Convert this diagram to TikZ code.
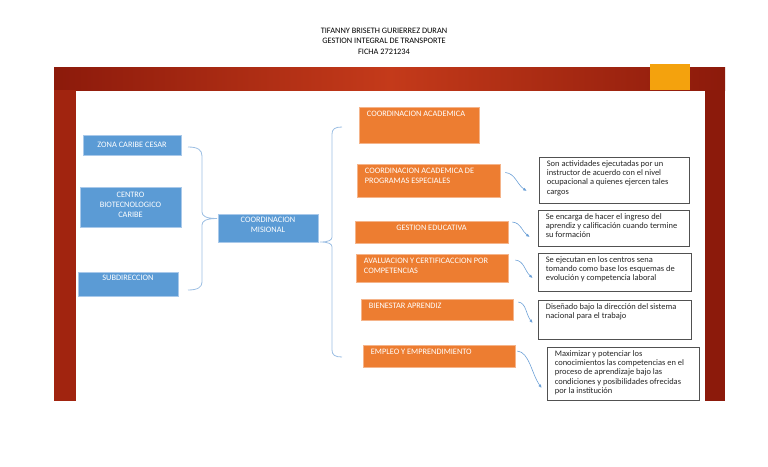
\documentclass[tikz,border=0pt]{standalone}
\usepackage{fontspec}
\setmainfont{Carlito}
\usetikzlibrary{arrows.meta}

\definecolor{boxblue}{HTML}{5B9BD5}
\definecolor{blueedge}{HTML}{A9C9EA}
\definecolor{boxorange}{HTML}{ED7D31}
\definecolor{orgedge}{HTML}{F5B48A}
\definecolor{bracecol}{HTML}{9DBFE3}
\definecolor{arrowcol}{HTML}{6A9FD6}
\definecolor{framedark}{HTML}{8C1A0B}
\definecolor{framemid}{HTML}{C43A1A}
\definecolor{frameside}{HTML}{A1240F}
\definecolor{tabgold}{HTML}{F4A20D}
\definecolor{txtgray}{HTML}{262626}

\newcommand\boxfont{\fontsize{7.1}{8.6}\selectfont}
\newcommand\descfont{\fontsize{7.2}{7.9}\selectfont}

\begin{document}
\begin{tikzpicture}[x=0.03cm,y=-0.03cm,
  sz/.style 2 args={minimum width=#1*0.03cm,minimum height=#2*0.03cm},
  bluebox/.style={draw=blueedge,line width=0.5pt,fill=boxblue,inner sep=0pt,
                  text=white,align=center,font=\boxfont},
  orgbox/.style={draw=orgedge,line width=0.5pt,fill=boxorange,inner sep=0pt},
  orgtxt/.style={label={[anchor=north west,inner xsep=6.8pt,inner ysep=3.3pt,
                 align=left,text=white,font=\boxfont]north west:{#1}}},
  orgmid/.style={label={[anchor=north,inner ysep=3.3pt,
                 text=white,font=\boxfont]north:{#1}}},
  descbox/.style={draw=txtgray!80,line width=0.6pt,fill=white,inner sep=0pt},
  desctxt/.style={label={[anchor=north west,inner xsep=6.8pt,inner ysep=3pt,
                  align=left,text=txtgray,font=\descfont]north west:{#1}}},
  brace/.style={draw=bracecol,line width=0.7pt},
  curarr/.style={arrowcol,line width=0.5pt,-{Latex[length=3pt,width=2.6pt]}}]

  \useasboundingbox (0,0) rectangle (768,466);

  % title
  \node[align=center,text=black,font=\fontsize{7.1}{8.9}\selectfont] (title) at (384,41)
    {TIFANNY BRISETH GURIERREZ DURAN\\GESTION INTEGRAL DE TRANSPORTE\\FICHA 2721234};

  % slide frame
  \shade[left color=framedark,right color=framedark,middle color=framemid] (54,67) rectangle (725,90);
  \fill[frameside] (54,90) rectangle (76,401);
  \fill[framedark] (705,90) rectangle (725,401);
  \fill[tabgold] (650,64) rectangle (690,90);

  % left column
  \node[bluebox,sz={98}{20}]  (zona)   at (132,145)   {ZONA CARIBE CESAR};
  \node[bluebox,sz={101}{40}] (centro) at (130.5,207) {CENTRO\\BIOTECNOLOGICO\\CARIBE\vphantom{g}\\[-5pt]};
  \node[bluebox,sz={100}{24}] (subd)   at (128,284)   {SUBDIRECCION\\[2pt]};
  \node[bluebox,sz={100}{28}] (mis)    at (268,228)   {COORDINACION\\MISIONAL\\[-3pt]};

  % coordinations
  \node[orgbox,sz={120}{36},orgtxt={COORDINACION ACADEMICA}] (acad) at (419,125) {};
  \node[orgbox,sz={143}{33},orgtxt={COORDINACION ACADEMICA DE\\PROGRAMAS ESPECIALES}] (ape) at (428.5,180.5) {};
  \node[orgbox,sz={153}{22},orgmid={GESTION EDUCATIVA}] (ges) at (431.5,232) {};
  \node[orgbox,sz={152}{28},orgtxt={AVALUACION Y CERTIFICACCION POR\\COMPETENCIAS}] (ava) at (432,268) {};
  \node[orgbox,sz={152}{21},orgtxt={BIENESTAR APRENDIZ}] (bien) at (437,309.5) {};
  \node[orgbox,sz={152}{22},orgtxt={EMPLEO Y EMPRENDIMIENTO}] (emp) at (439,356) {};

  % descriptions
  \node[descbox,sz={150}{46},desctxt={Son actividades ejecutadas por un\\instructor de acuerdo con el nivel\\ocupacional a quienes ejercen tales\\cargos}] (d1) at (614,180) {};
  \node[descbox,sz={151}{36},desctxt={Se encarga de hacer el ingreso del\\aprendiz y calificación cuando termine\\su formación}] (d2) at (613.5,228) {};
  \node[descbox,sz={153}{38},desctxt={Se ejecutan en los centros sena\\tomando como base los esquemas de\\evolución y competencia laboral}] (d3) at (614.5,272) {};
  \node[descbox,sz={153}{39},desctxt={Diseñado bajo la dirección del sistema\\nacional para el trabajo}] (d4) at (614.5,319.5) {};
  \node[descbox,sz={152}{53},desctxt={Maximizar y potenciar los\\conocimientos las competencias en el\\proceso de aprendizaje bajo las\\condiciones y posibilidades ofrecidas\\por la institución}] (d5) at (623,373.5) {};

  % braces
  \draw[brace] (188,147) .. controls (198,147) and (202,150) .. (202,156)
    -- (202,212) .. controls (202,216) and (206,218.5) .. (217,218.5)
    .. controls (206,218.5) and (202,221) .. (202,225)
    -- (202,282) .. controls (202,287) and (198,290) .. (188,290);
  \draw[brace] (342,127) .. controls (335,127) and (332,129) .. (332,134)
    -- (332,237) .. controls (332,240) and (329,242) .. (320,242)
    .. controls (329,242) and (332,244) .. (332,247)
    -- (332,350) .. controls (332,355) and (335,357) .. (342,357);

  % curved arrows
  \draw[curarr] ([shift={(5,-8)}]ape.east) .. controls +(10,1) and +(-10,-7) .. ([shift={(-12,11)}]d1.west);
  \draw[curarr] ([shift={(4,-10)}]ges.east) .. controls +(9,1) and +(-8,-6) .. ([shift={(-8,9)}]d2.west);
  \draw[curarr] ([shift={(7,-8)}]ava.east) .. controls +(9,1) and +(-8,-7) .. ([shift={(-5,6)}]d3.west);
  \draw[curarr] ([shift={(5,-7.5)}]bien.east) .. controls +(8,1) and +(-7,-9) .. ([shift={(-5,3.5)}]d4.west);
  \draw[curarr] ([shift={(2,-5)}]emp.east) .. controls +(12,1) and +(-10,-14) .. ([shift={(-5,14.5)}]d5.west);

\end{tikzpicture}
\end{document}
